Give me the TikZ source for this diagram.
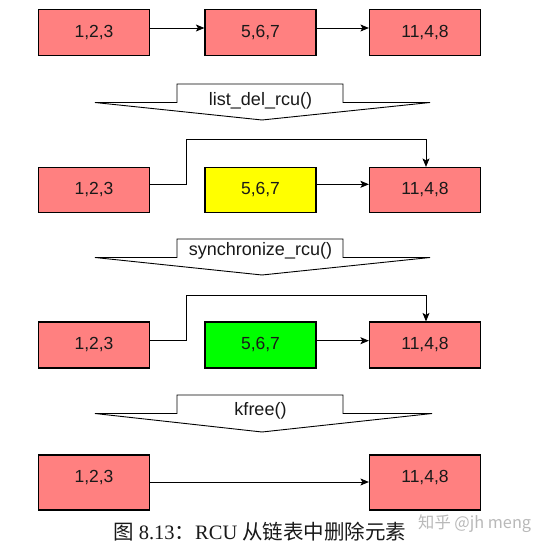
\documentclass[tikz,border=0pt]{standalone}
\usepackage{fontspec}
\setmainfont{Liberation Serif}
\newfontfamily\boxfont{Liberation Sans}
\newfontfamily\cjk{Noto Sans CJK SC}
\usetikzlibrary{arrows.meta}
\definecolor{salmon}{RGB}{255,128,128}
\definecolor{yel}{RGB}{255,255,0}
\definecolor{grn}{RGB}{0,255,0}
\definecolor{txt}{RGB}{25,25,25}
\definecolor{wm}{RGB}{185,185,185}
\begin{document}
\begin{tikzpicture}[x=1pt,y=-1pt,
  cell/.style={draw=black, line width=1.2pt, fill=salmon, minimum width=111pt, minimum height=46pt, inner sep=0pt, font=\boxfont\fontsize{17.5}{20}\selectfont, text=txt},
  link/.style={line width=0.9pt, -{Stealth[length=8.5pt,width=7pt,inset=2pt]}},
  bigarrow/.style={draw=black, line width=0.9pt, fill=white},
  oplabel/.style={font=\boxfont\fontsize{18}{20}\selectfont, text=txt, anchor=base, inner sep=0pt},
]
\useasboundingbox (0,0) rectangle (546,549);
\fill[white] (0,0) rectangle (546,549);

% Row 1
\node[cell] (r1a) at (94,32.3) {1,2,3};
\node[cell] (r1b) at (260.5,32.3) {5,6,7};
\node[cell] (r1c) at (425,32.3) {11,4,8};
\draw[link] ([yshift=4.3pt]r1a.east) -- ([yshift=4.3pt]r1b.west);
\draw[link] ([yshift=4.3pt]r1b.east) -- ([yshift=4.3pt]r1c.west);

% Big arrow 1
\draw[bigarrow] (177,102.5) -- (177,84) -- (343,84) -- (343,102.5) -- (430,102.5) -- (262,120) -- (95,102.5) -- cycle;
\node[oplabel] (op1) at (260.5,105) {list\_del\_rcu()};

% Row 2
\node[cell, minimum height=45pt] (r2a) at (94,190) {1,2,3};
\node[cell, minimum height=45pt, fill=yel] (r2b) at (260.5,190) {5,6,7};
\node[cell, minimum height=45pt] (r2c) at (425,190) {11,4,8};
\coordinate (b2) at (186,139.3);
\draw[link] ([yshift=5.7pt]r2a.east) -| (b2) -| ([xshift=1pt]r2c.north);
\draw[link] ([yshift=5.7pt]r2b.east) -- ([yshift=5.7pt]r2c.west);

% Big arrow 2
\draw[bigarrow] (177,257.5) -- (177,239) -- (343,239) -- (343,257.5) -- (430,257.5) -- (262,275) -- (95,257.5) -- cycle;
\node[oplabel] (op2) at (260.5,255) {synchronize\_rcu()};

% Row 3
\node[cell] (r3a) at (94,345) {1,2,3};
\node[cell, fill=grn] (r3b) at (260.5,345) {5,6,7};
\node[cell] (r3c) at (425,345) {11,4,8};
\coordinate (b3) at (186,295);
\draw[link] ([yshift=4.3pt]r3a.east) -| (b3) -| ([xshift=1pt]r3c.north);
\draw[link] ([yshift=4.3pt]r3b.east) -- ([yshift=4.3pt]r3c.west);

% Big arrow 3
\draw[bigarrow] (177,413.5) -- (177,395) -- (343,395) -- (343,413.5) -- (432,413.5) -- (262,432) -- (95,413.5) -- cycle;
\node[oplabel] (op3) at (260.5,415) {kfree()};

% Row 4
\node[cell, minimum height=55pt, text depth=13pt] (r4a) at (94,482.5) {1,2,3};
\node[cell, minimum height=55pt, text depth=13pt] (r4c) at (425,482.5) {11,4,8};
\draw[link] ([yshift=0.5pt]r4a.east) -- ([yshift=0.5pt]r4c.west);

% Caption and watermark
\node[anchor=base west, inner sep=0pt, font=\fontsize{20.5}{22}\selectfont, text=txt] (cap) at (113,539) {{\cjk 图} 8.13{\cjk ：}RCU {\cjk 从链表中删除元素}};
\node[anchor=base west, inner sep=0pt, font=\cjk\fontsize{16.3}{18}\selectfont, text=wm] (wmk) at (418,528) {知乎 @jh meng};
\end{tikzpicture}
\end{document}
